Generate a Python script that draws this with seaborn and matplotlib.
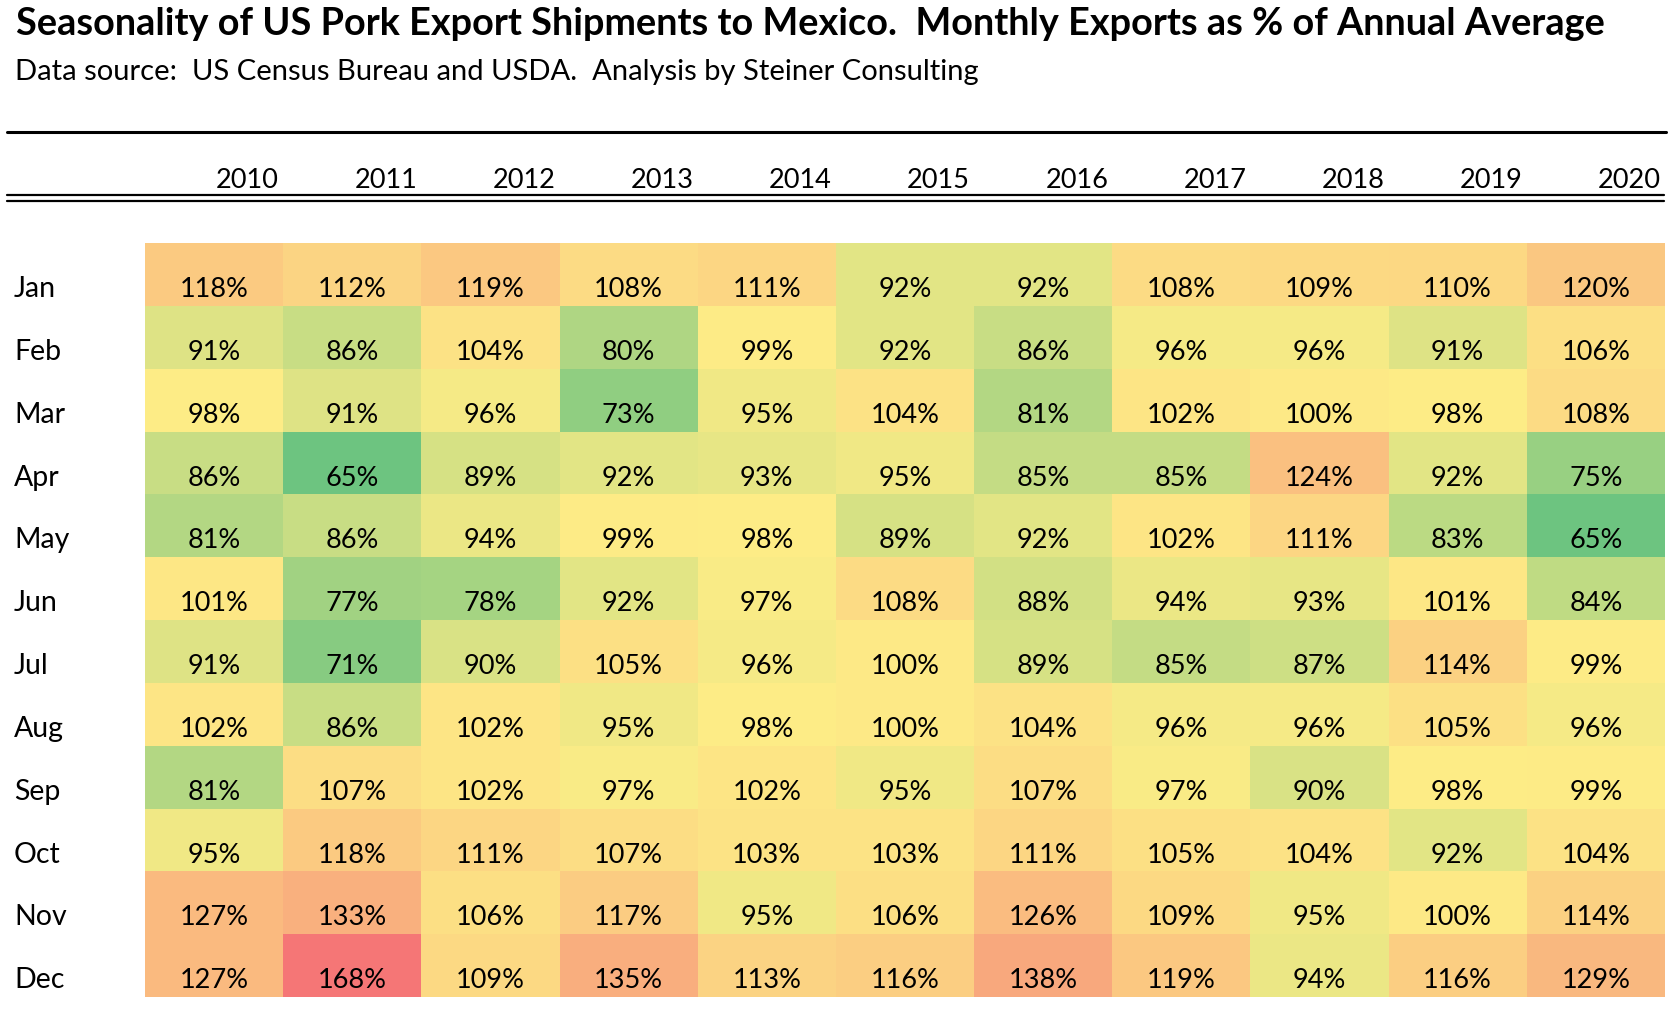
import numpy as np
import pandas as pd
import matplotlib
matplotlib.use("Agg")
import matplotlib.pyplot as plt
import seaborn as sns
from matplotlib.colors import LinearSegmentedColormap, TwoSlopeNorm
from matplotlib.lines import Line2D

# ------------------------------------------------------------------ data
years = ["2010", "2011", "2012", "2013", "2014", "2015",
         "2016", "2017", "2018", "2019", "2020"]
months = ["Jan", "Feb", "Mar", "Apr", "May", "Jun",
          "Jul", "Aug", "Sep", "Oct", "Nov", "Dec"]

jan = [118, 112, 119, 108, 111, 92, 92, 108, 109, 110, 120]
feb = [91, 86, 104, 80, 99, 92, 86, 96, 96, 91, 106]
mar = [98, 91, 96, 73, 95, 104, 81, 102, 100, 98, 108]
apr = [86, 65, 89, 92, 93, 95, 85, 85, 124, 92, 75]
may = [81, 86, 94, 99, 98, 89, 92, 102, 111, 83, 65]
jun = [101, 77, 78, 92, 97, 108, 88, 94, 93, 101, 84]
jul = [91, 71, 90, 105, 96, 100, 89, 85, 87, 114, 99]
aug = [102, 86, 102, 95, 98, 100, 104, 96, 96, 105, 96]
sep = [81, 107, 102, 97, 102, 95, 107, 97, 90, 98, 99]
oct_ = [95, 118, 111, 107, 103, 103, 111, 105, 104, 92, 104]
nov = [127, 133, 106, 117, 95, 106, 126, 109, 95, 100, 114]
dec = [127, 168, 109, 135, 113, 116, 138, 119, 94, 116, 129]

title = "Seasonality of US Pork Export Shipments to Mexico.  Monthly Exports as % of Annual Average"
subtitle = "Data source:  US Census Bureau and USDA.  Analysis by Steiner Consulting"

df = pd.DataFrame([jan, feb, mar, apr, may, jun, jul, aug, sep, oct_, nov, dec],
                  index=months, columns=years)

# Excel-style 3 colour scale: green (min) -> yellow (median) -> red (max)
cmap = LinearSegmentedColormap.from_list("gyr", ["#6DC480", "#FDEC86", "#F57676"])
vals = df.values.astype(float)
norm = TwoSlopeNorm(vmin=vals.min(), vcenter=np.percentile(vals, 50), vmax=vals.max())

sns.set_theme(style="white")
plt.rcParams["font.family"] = ["Lato", "DejaVu Sans"]

W, H = 1675, 1018
fig = plt.figure(figsize=(W / 100, H / 100), dpi=100)
ax = fig.add_axes([145 / W, 1 - 997 / H, (1665 - 145) / W, (997 - 243) / H])

sns.heatmap(df, ax=ax, cmap=cmap, norm=norm, cbar=False,
            annot=df.map(lambda v: f"{v}%").values, fmt="",
            annot_kws={"fontsize": 19.5, "color": "black", "va": "baseline"})

# push the cell labels down toward the bottom of each cell (Excel style)
for t in ax.texts:
    x, y = t.get_position()
    t.set_position((x, y + 0.36))

# month labels, left aligned at the page edge
ax.set_yticks(np.arange(len(months)) + 0.86)
ax.set_yticklabels(months, rotation=0, fontsize=20.5, color="black")
plt.setp(ax.get_yticklabels(), ha="left", va="baseline")
ax.tick_params(axis="y", length=0, pad=(145 - 14) * 0.72)

# year labels on top, right aligned with each column
ax.xaxis.tick_top()
ax.set_xticks(np.arange(len(years)) + 0.97)
ax.set_xticklabels(years, rotation=0, fontsize=19.5, color="black")
plt.setp(ax.get_xticklabels(), ha="right", va="baseline")
ax.tick_params(axis="x", length=0, pad=(243 - 188) * 0.72)
ax.set_xlabel("")
ax.set_ylabel("")

# title block
fig.text(16 / W, 1 - 35 / H, title, fontsize=27.3, fontweight="bold",
         ha="left", va="baseline", color="black")
fig.text(15 / W, 1 - 80 / H, subtitle, fontsize=21,
         ha="left", va="baseline", color="black")

# header rules: single line above, double line below the years
fig.add_artist(Line2D([7 / W, 1666 / W], [1 - 132 / H] * 2, color="black", lw=2.2))
fig.add_artist(Line2D([7 / W, 1664 / W], [1 - 195 / H] * 2, color="black", lw=1.6))
fig.add_artist(Line2D([7 / W, 1664 / W], [1 - 201 / H] * 2, color="black", lw=1.6))

fig.savefig("out.png", dpi=100, facecolor="white")
